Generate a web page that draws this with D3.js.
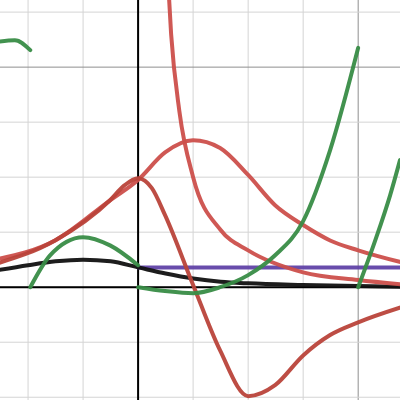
<!DOCTYPE html>
<html><head><meta charset="utf-8">
<script src="https://cdn.jsdelivr.net/npm/d3@7"></script>
<style>body{margin:0;background:#fff}</style>
</head><body>
<div id="container"></div>
<script>
// curves, in graph units
const greenHumpX = [-1.96,-1.6,-1,-0.51,0];
const greenHumpY = [0,0.58,0.91,0.76,0.4];
const greenMidX = [0,0.49,1,1.49,2,2.49,3,3.49,4];
const greenMidY = [0,-0.07,-0.11,0,0.22,0.58,1.2,2.49,4.35];
const greenRightX = [4,4.31,4.58,4.76];
const greenRightY = [0,0.85,1.67,2.31];
const greenTopX = [-2.6,-2.24,-1.96];
const greenTopY = [4.45,4.49,4.31];
const purpleX = [0,4.8];
const purpleY = [0.36,0.36];
const blackX = [-2.6,-2,-1.5,-1,-0.5,0,0.5,1,1.5,2,3,4,4.8];
const blackY = [0.3,0.4,0.47,0.5,0.47,0.36,0.25,0.16,0.1,0.07,0.04,0.02,0.01];
const redSpikeX = [0.52,0.6,0.75,1,1.5,2,3,4,4.8];
const redSpikeY = [6,4.6,3.2,2.0,1.04,0.67,0.27,0.13,0.05];
const redBellX = [-2.6,-1.51,-0.51,0,0.49,1,1.49,2,2.49,3,3.49,4,4.8];
const redBellY = [0.5,0.85,1.58,1.95,2.45,2.67,2.53,2.04,1.49,1.13,0.85,0.67,0.45];
const redWaveX = [-2.6,-1.51,-0.51,-0.25,0,0.25,0.49,1,1.49,2,2.49,3,3.49,4,4.8];
const redWaveY = [0.42,0.85,1.58,1.85,1.98,1.8,1.31,0.04,-1.15,-1.98,-1.78,-1.24,-0.87,-0.64,-0.36];

const w = 400, h = 400;
const x = d3.scaleLinear().domain([-2.51, 4.76]).range([0, w]);
const y = d3.scaleLinear().domain([-2.05, 5.22]).range([h, 0]);

const svg = d3.select('#container').append('svg').attr('width', w).attr('height', h);

// grid
const ticks = d3.range(-3, 7);
svg.selectAll('line.gx').data(ticks).enter().append('line')
  .attr('x1', d => x(d)).attr('x2', d => x(d)).attr('y1', 0).attr('y2', h)
  .attr('stroke', d => d % 4 == 0 ? '#8f8f8f' : '#d4d4d4').attr('stroke-width', 1);
svg.selectAll('line.gy').data(ticks).enter().append('line')
  .attr('y1', d => y(d)).attr('y2', d => y(d)).attr('x1', 0).attr('x2', w)
  .attr('stroke', d => d % 4 == 0 ? '#8f8f8f' : '#d4d4d4').attr('stroke-width', 1);
svg.append('line').attr('x1', x(0)).attr('x2', x(0)).attr('y1', 0).attr('y2', h).attr('stroke', '#000').attr('stroke-width', 2);
svg.append('line').attr('y1', y(0)).attr('y2', y(0)).attr('x1', 0).attr('x2', w).attr('stroke', '#000').attr('stroke-width', 2);

const line = d3.line().x(d => x(d[0])).y(d => y(d[1])).curve(d3.curveMonotoneX);
function draw(xs, ys, color) {
  svg.append('path').datum(xs.map((v, i) => [v, ys[i]]))
    .attr('d', line).attr('fill', 'none').attr('stroke', color)
    .attr('stroke-width', 4).attr('stroke-linecap', 'round').attr('stroke-opacity', 0.95);
}
draw(purpleX, purpleY, '#6042a6');
draw(blackX, blackY, '#111');
draw(redBellX, redBellY, '#cc4f4b');
draw(redSpikeX, redSpikeY, '#cc4f4b');
draw(redWaveX, redWaveY, '#b9433a');
draw(greenHumpX, greenHumpY, '#388c46');
draw(greenMidX, greenMidY, '#388c46');
draw(greenRightX, greenRightY, '#388c46');
draw(greenTopX, greenTopY, '#388c46');
</script>
</body></html>
